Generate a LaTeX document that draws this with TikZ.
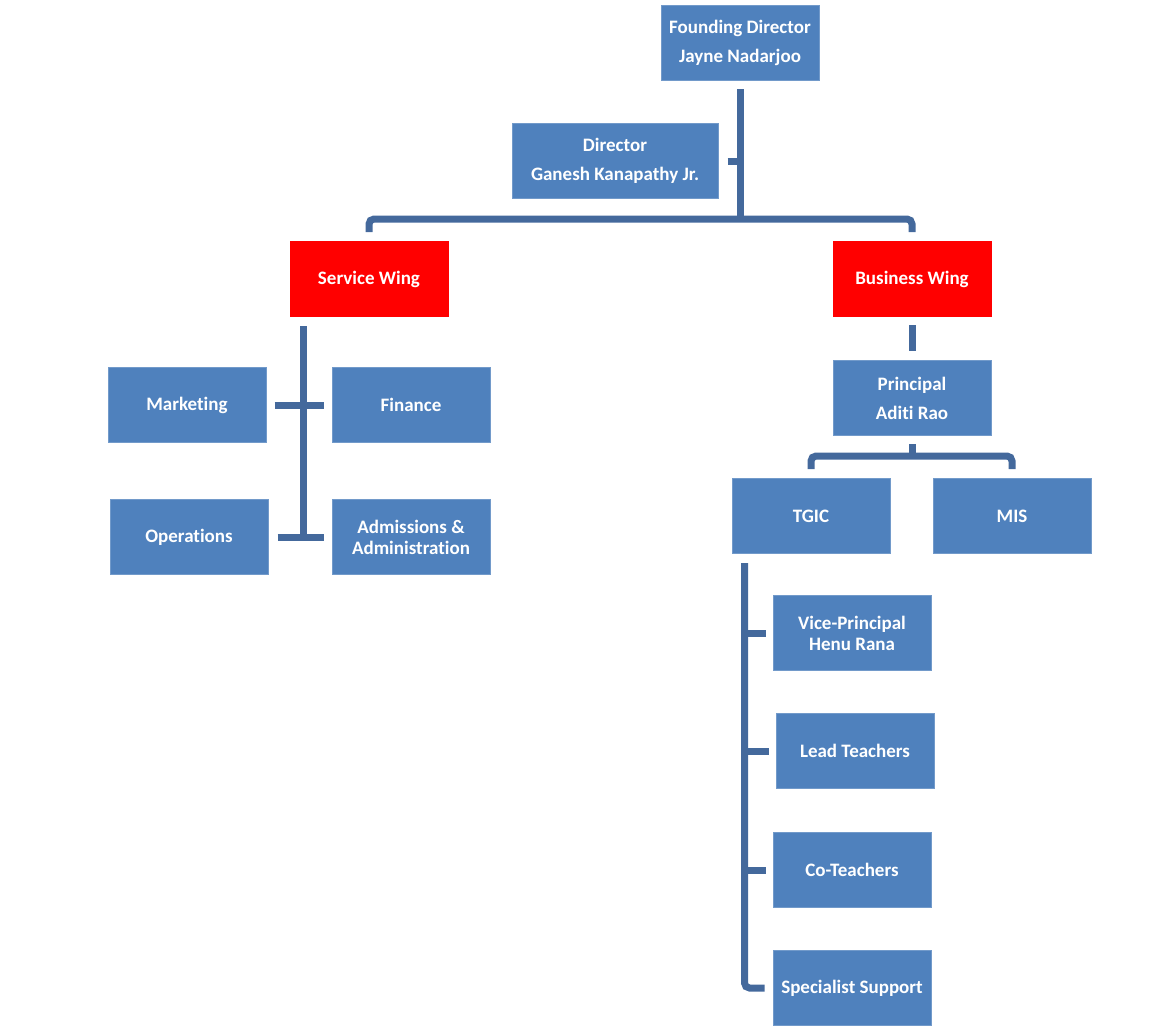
\documentclass[tikz,border=0pt]{standalone}
\usepackage{fontspec}
\setmainfont[Ligatures=NoCommon]{Carlito}
\usetikzlibrary{calc}
\definecolor{boxblue}{HTML}{4F81BD}
\definecolor{lineblue}{HTML}{44699C}
\definecolor{wingred}{HTML}{FF0000}
\tikzset{
  box/.style={fill=boxblue, draw=boxblue!80!white, line width=1pt, minimum width=158, minimum height=75,
    text=white, font=\bfseries\fontsize{19}{29}\selectfont, align=center, inner sep=0pt},
  tight/.style={font=\bfseries\fontsize{19}{21}\selectfont},
  redbox/.style={box, fill=wingred, draw=wingred},
  conn/.style={draw=lineblue, line width=7pt},
}
\begin{document}
\begin{tikzpicture}[x=1pt,y=-1pt]
\useasboundingbox (0,0) rectangle (1170,1036);
% nodes
\node[box] (fd) at (740,43) {Founding Director\\Jayne Nadarjoo};
\node[box, minimum width=206] (dir) at (615,161) {Director\\Ganesh Kanapathy Jr.};
\node[redbox] (sw) at (369,279) {Service Wing};
\node[redbox] (bw) at (912,279) {Business Wing};
\node[box] (mk) at (187,405) {Marketing};
\node[box] (fin) at (411,405) {Finance};
\node[box] (ops) at (189,537) {Operations};
\node[box, tight] (adm) at (411,537) {Admissions \&\\Administration};
\node[box] (pr) at (912,398) {Principal\\Aditi Rao};
\node[box] (tg) at (811,516) {TGIC};
\node[box] (mis) at (1012,516) {MIS};
\node[box, tight] (vp) at (852,633) {Vice-Principal\\Henu Rana};
\node[box] (lt) at (855,751) {Lead Teachers};
\node[box] (ct) at (852,870) {Co-Teachers};
\node[box] (ss) at (852,988) {Specialist Support};
% top connectors
\draw[conn] ($(fd.south)+(0,8)$) -- ($(sw.north -| fd.south)+(0,-22)$);
\draw[conn] ($(dir.east)+(9,0)$) -- (dir.east -| fd.south);
\draw[conn, rounded corners=5] ($(sw.north)+(0,-9)$) -- ($(sw.north)+(0,-22)$) -- ($(bw.north)+(0,-22)$) -- ($(bw.north)+(0,-9)$);
% service wing
\coordinate (sv) at ($(sw.south)+(-66,9)$);
\draw[conn] (sv) -- (sv |- ops.east);
\draw[conn] ($(mk.east)+(8,0)$) -- ($(fin.west)+(-8,0)$);
\draw[conn] ($(ops.east)+(9,0)$) -- ($(adm.west)+(-8,0)$);
% business wing
\draw[conn] ($(bw.south)+(0,8)$) -- ($(pr.north)+(0,-9)$);
\draw[conn] ($(pr.south)+(0,8)$) -- ($(tg.north -| pr.south)+(0,-22)$);
\draw[conn, rounded corners=5] ($(tg.north)+(0,-9)$) -- ($(tg.north)+(0,-22)$) -- ($(mis.north)+(0,-22)$) -- ($(mis.north)+(0,-9)$);
% TGIC list
\coordinate (tv) at ($(tg.south west)+(13,9)$);
\draw[conn, rounded corners=5] (tv) |- ($(ss.west)+(-8,0)$);
\draw[conn] (tv |- vp.west) -- ($(vp.west)+(-7,0)$);
\draw[conn] (tv |- lt.west) -- ($(lt.west)+(-7,0)$);
\draw[conn] (tv |- ct.west) -- ($(ct.west)+(-7,0)$);
\end{tikzpicture}
\end{document}
